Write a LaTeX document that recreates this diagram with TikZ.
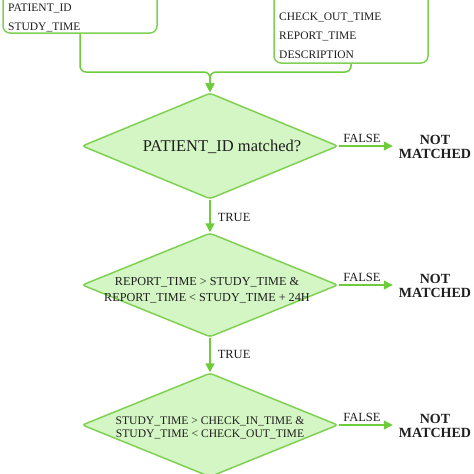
\documentclass[tikz,border=0pt]{standalone}
\usepackage{fontspec}
\setmainfont{Liberation Serif}
\usetikzlibrary{shapes.geometric,arrows.meta}
\definecolor{gline}{RGB}{128,208,84}
\definecolor{gfill}{RGB}{212,245,196}
\definecolor{garrow}{RGB}{108,204,58}
\definecolor{txt}{RGB}{30,30,30}
\begin{document}
\begin{tikzpicture}[x=1pt,y=-1pt,
  databox/.style={draw=gline, line width=1.5pt, rounded corners=7pt, fill=white},
  boxtext/.style={anchor=west, inner sep=0pt, text=txt, font=\fontsize{11.5}{13}\selectfont},
  decision/.style={diamond, draw=gline, fill=gfill, line width=1.5pt, rounded corners=3pt, inner sep=0pt, minimum width=256pt},
  dtext/.style={align=center, inner sep=0pt, text=txt},
  conn/.style={draw=garrow, line width=1.5pt, rounded corners=6pt, -{Triangle[length=9pt,width=9pt]}},
  lbl/.style={inner sep=0pt, text=txt, font=\fontsize{12.5}{14}\selectfont},
  nm/.style={align=center, inner sep=6pt, text=txt, font=\fontsize{14}{14.5}\selectfont\bfseries}
]
\useasboundingbox (0,0) rectangle (474,474);
% data boxes
\node[databox, minimum width=154pt, minimum height=80pt] (lbox) at (80,-7) {};
\node[boxtext] (pid) at (8,8) {PATIENT\_ID};
\node[boxtext] (st) at (8,27) {STUDY\_TIME};
\node[databox, minimum width=154pt, minimum height=110pt] (rbox) at (351,8) {};
\node[boxtext] (cot) at (279,17) {CHECK\_OUT\_TIME};
\node[boxtext] (rt) at (279,36) {REPORT\_TIME};
\node[boxtext] (desc) at (279,55) {DESCRIPTION};
% decisions
\node[decision, minimum height=106pt] (d1) at (210,146) {};
\node[dtext, font=\fontsize{16.5}{18}\selectfont] (t1) at (222,147) {PATIENT\_ID matched?};
\node[decision, minimum height=104pt] (d2) at (210,285) {};
\node[dtext, font=\fontsize{12.2}{16.5}\selectfont] (t2) at (207,290) {REPORT\_TIME > STUDY\_TIME \&\\REPORT\_TIME < STUDY\_TIME + 24H};
\node[decision, minimum height=104pt] (d3) at (210,425) {};
\node[dtext, font=\fontsize{11.6}{12.5}\selectfont] (t3) at (210,428) {STUDY\_TIME > CHECK\_IN\_TIME \&\\STUDY\_TIME < CHECK\_OUT\_TIME};
% junction
\coordinate (j) at (210,72);
\draw[conn] (lbox.south) |- (j) -- (d1.north);
\draw[conn] (rbox.south) |- (j) -- (d1.north);
% true arrows
\draw[conn] (d1.south) -- node[lbl, anchor=west, xshift=7pt, yshift=-1pt] (true1) {TRUE} (d2.north);
\draw[conn] (d2.south) -- node[lbl, anchor=west, xshift=7pt, yshift=1pt] (true2) {TRUE} (d3.north);
% not matched
\node[nm] (nm1) at (435,147) {NOT\\MATCHED};
\node[nm] (nm2) at (435,286) {NOT\\MATCHED};
\node[nm] (nm3) at (435,426) {NOT\\MATCHED};
\draw[conn] (d1.east) -- (d1.east -| nm1.west) node[pos=0.07, lbl, anchor=base west, yshift=4pt] (f1) {FALSE};
\draw[conn] (d2.east) -- (d2.east -| nm2.west) node[pos=0.07, lbl, anchor=base west, yshift=4pt] (f2) {FALSE};
\draw[conn] (d3.east) -- (d3.east -| nm3.west) node[pos=0.07, lbl, anchor=base west, yshift=4pt] (f3) {FALSE};
\end{tikzpicture}
\end{document}
